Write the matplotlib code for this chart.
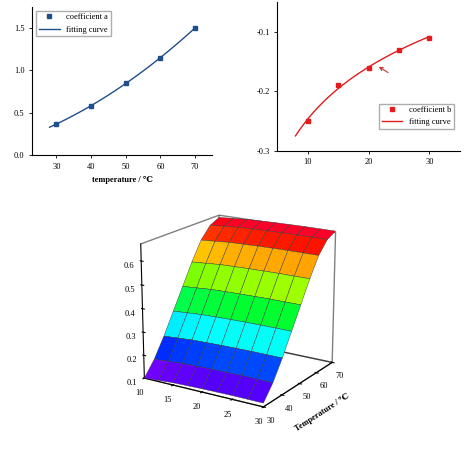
import numpy as np
import matplotlib.pyplot as plt

plt.rcParams['font.family'] = ['Liberation Serif', 'DejaVu Serif']
plt.rcParams['font.size'] = 6
plt.rcParams['axes.unicode_minus'] = False

# coefficient a vs temperature
temp_a = [30, 40, 50, 60, 70]
coef_a = [0.37, 0.58, 0.85, 1.15, 1.50]

# coefficient b vs temperature
temp_b = [10, 15, 20, 25, 30]
coef_b = [-0.25, -0.19, -0.16, -0.13, -0.11]

# surface: profile along temperature, small change along x
surf_x = [10, 12.5, 15, 17.5, 20, 22.5, 25, 27.5, 30]
surf_t = [30, 35, 40, 45, 50, 55, 60, 65, 70]
surf_profile = [0.10, 0.16, 0.24, 0.33, 0.42, 0.51, 0.59, 0.64, 0.66]
surf_xshift = [0.00, 0.005, 0.01, 0.012, 0.014, 0.015, 0.016, 0.016, 0.016]

fig = plt.figure(figsize=(4.74, 4.5), dpi=100)

# top left
ax1 = fig.add_axes([0.068, 0.655, 0.38, 0.33])
p = np.polyfit(temp_a, coef_a, 2)
xf = np.linspace(28, 70, 100)
ax1.plot(xf, np.polyval(p, xf), color='#1f4e8c', lw=1, label='fitting curve')
ax1.plot(temp_a, coef_a, 's', color='#1f4e8c', ms=2.5, label='coefficient a')
ax1.set_xlim(23, 75)
ax1.set_ylim(0, 1.75)
ax1.set_xticks([30, 40, 50, 60, 70])
ax1.set_yticks([0.0, 0.5, 1.0, 1.5])
ax1.set_yticklabels(['0.0', '0.5', '1.0', '1.5'])
ax1.set_xlabel('temperature / \u2103', fontweight='bold')
h, l = ax1.get_legend_handles_labels()
ax1.legend(h[::-1], l[::-1], loc='upper left', frameon=True, fancybox=False,
           edgecolor='#999999', fontsize=6, borderpad=0.3, handlelength=2.5)
for s in ['top', 'right']:
    ax1.spines[s].set_visible(False)
ax1.tick_params(length=2, width=0.6)

# top right
ax2 = fig.add_axes([0.585, 0.665, 0.385, 0.33])
pb = np.polyfit(np.log(temp_b), coef_b, 1)
xb = np.linspace(8, 30, 100)
ax2.plot(xb, np.polyval(pb, np.log(xb)), color='#e41a1c', lw=1, label='fitting curve')
ax2.plot(temp_b, coef_b, 's', color='#e41a1c', ms=2.5, label='coefficient b')
ax2.set_xlim(5, 35)
ax2.set_ylim(-0.3, -0.05)
ax2.set_xticks([10, 20, 30])
ax2.set_yticks([-0.3, -0.2, -0.1])
ax2.annotate('', xy=(21.3, -0.156), xytext=(23.6, -0.171),
             arrowprops=dict(arrowstyle='->', color='#c0392b', lw=0.8))
h, l = ax2.get_legend_handles_labels()
ax2.legend(h[::-1], l[::-1], loc='lower right', frameon=True, fancybox=False,
           edgecolor='#999999', fontsize=6, borderpad=0.3, handlelength=2.5,
           bbox_to_anchor=(0.99, 0.12))
for s in ['top', 'right']:
    ax2.spines[s].set_visible(False)
ax2.tick_params(length=2, width=0.6)

# bottom 3D surface
ax3 = fig.add_axes([0.22, 0.075, 0.56, 0.48], projection='3d')
ax3.set_box_aspect((1, 1, 1.0), zoom=1.08)
X, T = np.meshgrid(surf_x, surf_t)
Z = np.array(surf_profile)[:, None] + np.array(surf_xshift)[None, :]
ax3.plot_surface(X, T, Z, cmap='gist_rainbow_r', rstride=1, cstride=1, shade=False,
                 edgecolor='#333333', linewidth=0.3, antialiased=True,
                 vmin=0.04, vmax=0.66)
ax3.set_xlim(10, 30)
ax3.set_ylim(30, 70)
ax3.set_zlim(0.1, 0.67)
ax3.set_xticks([10, 15, 20, 25, 30])
ax3.set_yticks([30, 40, 50, 60, 70])
ax3.set_zticks([0.1, 0.2, 0.3, 0.4, 0.5, 0.6])
ax3.set_ylabel('Temperature / \u2103', fontweight='bold', labelpad=-6)
ax3.view_init(elev=18, azim=-58)
ax3.grid(False)
ax3.zaxis._axinfo['juggled'] = (1, 2, 0)
for a in (ax3.xaxis, ax3.yaxis, ax3.zaxis):
    a.pane.fill = False
    a.pane.set_edgecolor('black')
    a.line.set_linewidth(0.8)
ax3.tick_params(pad=-3, labelsize=6)

fig.savefig('out.png', dpi=100)
